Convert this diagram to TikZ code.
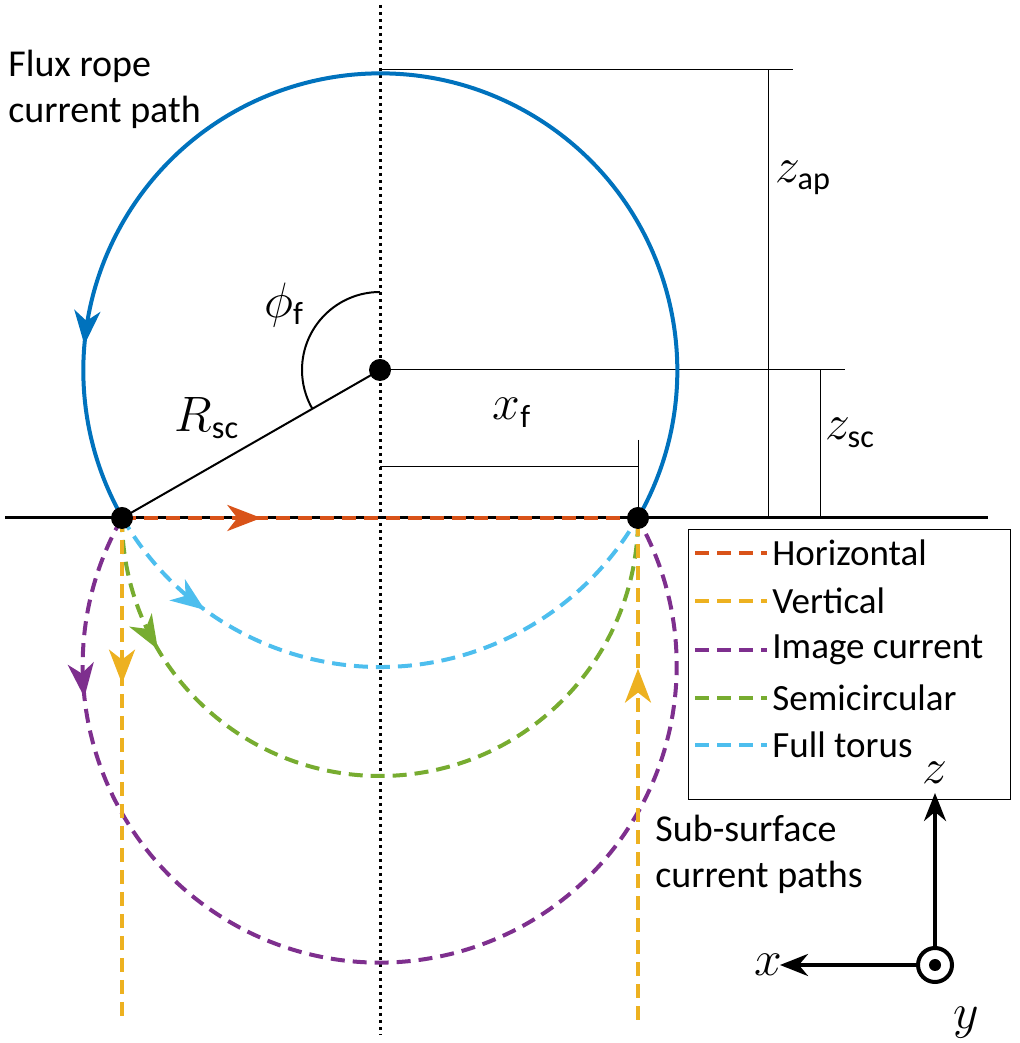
\documentclass[tikz,border=0pt]{standalone}
\usepackage{fontspec}
\setmainfont{Carlito}
\usetikzlibrary{arrows.meta,decorations.markings}
\definecolor{cblue}{HTML}{0072BD}
\definecolor{corange}{HTML}{D95319}
\definecolor{cyellow}{HTML}{EDB120}
\definecolor{cpurple}{HTML}{7E2F8E}
\definecolor{cgreen}{HTML}{77AC30}
\definecolor{ccyan}{HTML}{4DBEEE}
\tikzset{
 dsh/.style={line width=2pt,dash pattern=on 7pt off 4pt},
 mk/.style={postaction={decorate},decoration={markings,mark=at position #1 with {\arrow{Stealth[length=17pt,width=13pt,inset=5pt]}}}},
 thin/.style={line width=0.5pt},
 lbl/.style={font=\fontsize{18.5}{21}\selectfont},
 tlbl/.style={font=\fontsize{19}{23}\selectfont},
 mlbl/.style={font=\fontsize{23}{25}\selectfont},
 dot/.style={circle,fill=black,inner sep=0pt,minimum size=11pt}
}
\begin{document}
\begin{tikzpicture}[x=0.5pt,y=0.5pt]
\useasboundingbox (0,0) rectangle (1020,1043);
\coordinate (C) at (380,673);
\coordinate (L) at (122,525);
\coordinate (R) at (638,525);
\draw[line width=1.5pt,dash pattern=on 1.5pt off 2pt] (380,1038) -- (380,8);
\draw[line width=1.5pt] (5,525) -- (988,525);
\draw[thin] (380,973) -- (793,973) (768,973) -- (768,525);
\draw[thin] (C) -- (845,673) (820,673) -- (820,525);
\draw[thin] (380,576) -- (638,576) (638,603) -- (638,525);
\node[mlbl] at (803,865) {$z_{\mathrm{ap}}$};
\node[mlbl] at (850,610) {$z_{\mathrm{sc}}$};
\node[mlbl] at (512,630) {$x_{\mathrm{f}}$};
\node[mlbl] at (207,625) {$R_{\mathrm{sc}}$};
\node[mlbl] at (284,738) {$\phi_{\mathrm{f}}$};
\draw[line width=1pt] (L) -- (C);
\draw[line width=1pt] ([shift={(90:78)}]C) arc[start angle=90,end angle=209.8,radius=78];
\draw[corange,dsh,mk=0.27] (L) -- (R);
\draw[ccyan,dsh,mk=0.2] ([shift={(209.8:297)}]C) arc[start angle=209.8,end angle=330.2,radius=297];
\draw[cgreen,dsh,mk=0.17] (L) arc[start angle=180,end angle=360,radius=258];
\draw[cpurple,dsh,mk=0.15] (L) arc[start angle=150.2,end angle=389.8,radius=297];
\draw[cyellow,dsh,mk=0.33] (L) -- (122,23);
\draw[cyellow,dsh,mk=0.7] (638,23) -- (R);
\draw[cblue,line width=2pt,mk=0.855] (R) arc[start angle=-29.8,end angle=209.8,radius=297];
\node[dot] at (C) {};
\node[dot] at (L) {};
\node[dot] at (R) {};
\draw[fill=white,thin] (688,243) rectangle (1010,513);
\foreach \c/\t/\y in {corange/Horizontal/490,cyellow/Vertical/442,cpurple/Image current/393,cgreen/Semicircular/345,ccyan/Full torus/298}{
 \draw[\c,dsh] (695,\y) -- (767,\y);
 \node[lbl,anchor=west,inner sep=0pt] at (772,\y) {\t};
}
\node[tlbl,align=left,anchor=north west,inner sep=0pt] at (8,993) {Flux rope\\current path};
\node[tlbl,align=left,anchor=north west,inner sep=0pt] at (655,228) {Sub-surface\\current paths};
\draw[line width=2pt,-{Stealth[length=14pt,width=11pt]}] (935,97) -- (935,250);
\draw[line width=2pt,-{Stealth[length=14pt,width=11pt]}] (917,78) -- (780,78);
\draw[line width=2pt] (935,78) circle[radius=17];
\fill (935,78) circle[radius=6];
\node[mlbl] at (935,270) {$z$};
\node[mlbl] at (768,78) {$x$};
\node[mlbl] at (966,20) {$y$};
\end{tikzpicture}
\end{document}
